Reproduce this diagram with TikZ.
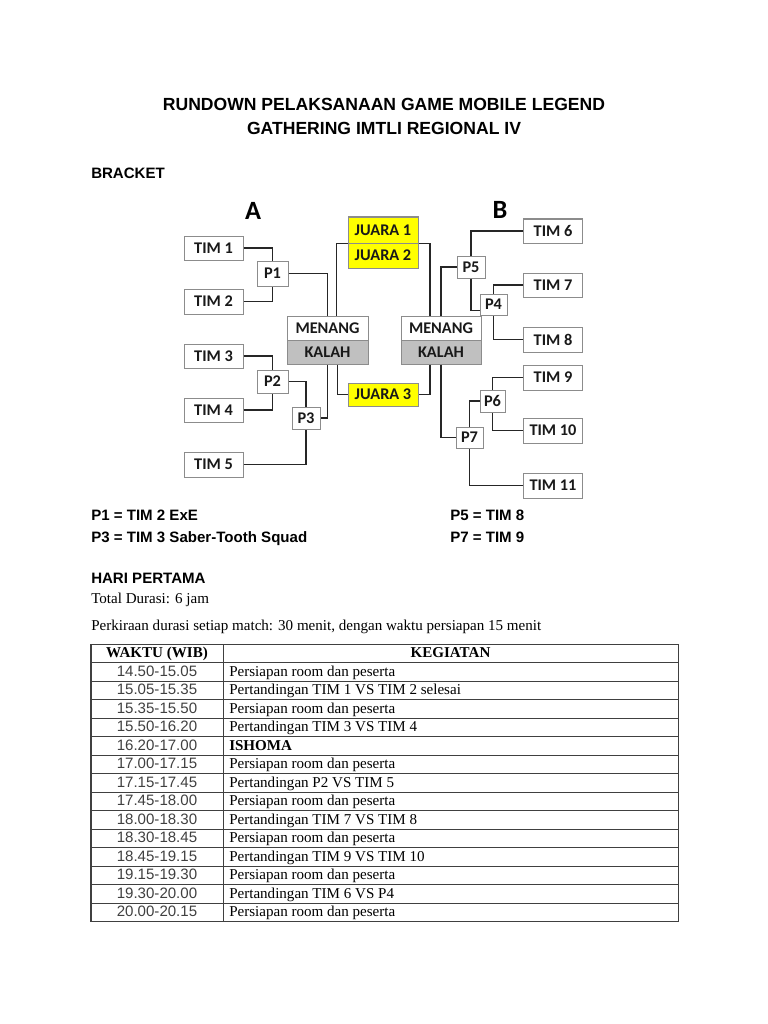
\documentclass[tikz,border=0pt]{standalone}
\usepackage{fontspec}
\setmainfont{Liberation Serif}
\newfontfamily\arialf{Liberation Sans}
\newfontfamily\calf{Carlito}
\usetikzlibrary{calc}
\definecolor{boxgray}{HTML}{8C8C8C}
\definecolor{kalahgray}{HTML}{C0C0C0}
\definecolor{juarayellow}{HTML}{FFFF00}
\definecolor{lineblack}{HTML}{262626}
\definecolor{tablegray}{HTML}{404040}
\newcommand\pxu{0.796875pt}
\tikzset{
  bx/.style 2 args={minimum width=#1*\pxu, minimum height=#2*\pxu},
  team/.style={draw=boxgray, line width=0.8pt, fill=white, inner sep=0pt,
    font=\calf\bfseries\fontsize{13}{15}\selectfont, text=black!90},
  kalah/.style={team, fill=kalahgray},
  juara/.style={team, fill=juarayellow},
  conn/.style={draw=lineblack, line width=0.9pt},
  bigletter/.style={font=\calf\bfseries\fontsize{21}{24}\selectfont, inner sep=0pt},
  headtext/.style={font=\arialf\bfseries\fontsize{12}{14}\selectfont, inner sep=0pt, anchor=base west},
  titletext/.style={font=\arialf\bfseries\fontsize{14}{16}\selectfont, inner sep=0pt, anchor=base},
  bodytext/.style={font=\fontsize{12}{14}\selectfont, inner sep=0pt, anchor=base west},
  timetext/.style={font=\arialf\fontsize{12}{14}\selectfont, text=black!75, inner sep=0pt, anchor=base},
  acttext/.style={font=\fontsize{12}{14}\selectfont, inner sep=0pt, anchor=base west},
  tabline/.style={draw=tablegray, line width=0.8pt}
}
\begin{document}
\begin{tikzpicture}[x=0.796875pt, y=-0.796875pt]
\useasboundingbox (0,0) rectangle (768,1024);
\fill[white] (0,0) rectangle (768,1024);

% titles
\node[titletext] (title1) at (384,110.3) {RUNDOWN PELAKSANAAN GAME MOBILE LEGEND};
\node[titletext] (title2) at (384,134.3) {GATHERING IMTLI REGIONAL IV};
\node[headtext] (bracket) at (91,178.4) {BRACKET};

% bracket letters
\node[bigletter] (la) at (253,211) {A};
\node[bigletter] (lb) at (500,210) {B};

% side A teams
\node[team, bx={59}{24}] (t1) at (213.5,248) {TIM 1};
\node[team, bx={59}{25}] (t2) at (213.5,301.5) {TIM 2};
\node[team, bx={59}{24}] (t3) at (213.5,356) {TIM 3};
\node[team, bx={59}{24}] (t4) at (213.5,410) {TIM 4};
\node[team, bx={59}{25}] (t5) at (213.5,464.5) {TIM 5};
\node[team, bx={31}{25}] (p1) at (272.5,273.5) {P1};
\node[team, bx={31}{23}] (p2) at (272.5,381.5) {P2};
\node[team, bx={28}{22}] (p3) at (306,418) {P3};

% centre
\node[team, bx={81}{24}] (mA) at (327.5,328) {MENANG};
\node[kalah, bx={81}{24}] (kA) at (327.5,352) {KALAH};
\node[team, bx={80}{24}] (mB) at (441,328) {MENANG};
\node[kalah, bx={80}{24}] (kB) at (441,352) {KALAH};
\node[juara, bx={70}{26}] (j1) at (383,230) {JUARA 1};
\node[juara, bx={70}{25}] (j2) at (383,255.5) {JUARA 2};
\node[juara, bx={70}{23}] (j3) at (383,394.5) {JUARA 3};

% side B teams
\node[team, bx={59}{24}] (t6) at (553,231) {TIM 6};
\node[team, bx={59}{24}] (t7) at (553,285) {TIM 7};
\node[team, bx={59}{25}] (t8) at (553,339.5) {TIM 8};
\node[team, bx={59}{25}] (t9) at (553,377.5) {TIM 9};
\node[team, bx={59}{25}] (t10) at (553,430.5) {TIM 10};
\node[team, bx={59}{25}] (t11) at (553,485.5) {TIM 11};
\node[team, bx={28}{22}] (p5) at (471,267) {P5};
\node[team, bx={27}{21}] (p4) at (493.5,304.5) {P4};
\node[team, bx={25}{22}] (p6) at (492.5,401) {P6};
\node[team, bx={27}{21}] (p7) at (469.5,437.5) {P7};

% connectors side A
\draw[conn] (t1.east) -| (p1.north);
\draw[conn] (t2.east) -| (p1.south);
\draw[conn] (t3.east) -| (p2.north);
\draw[conn] (t4.east) -| (p2.south);
\draw[conn] (p2.east) -| (p3.north);
\draw[conn] (t5.east) -| (p3.south);
\draw[conn] (p1.east) -| (mA.north);
\draw[conn] (kA.south) |- (p3.east);
% centre
\draw[conn] ($(mA.north)+(9,0)$) |- (j1.south west);
\draw[conn] (j1.south east) -| ($(mB.north)+(-11,0)$);
\draw[conn] ($(kA.south)+(10,0)$) |- (j3.west);
\draw[conn] ($(kB.south)+(-11,0)$) |- (j3.east);
% side B
\draw[conn] (mB.north) |- (p5.west);
\draw[conn] (kB.south) |- (p7.west);
\draw[conn] (t6.west) -| (p5.north);
\draw[conn] (p5.south) |- ($(p4.west)+(0,6)$);
\draw[conn] (t7.west) -| (p4.north);
\draw[conn] (t8.west) -| (p4.south);
\draw[conn] (t9.west) -| (p6.north);
\draw[conn] (t10.west) -| (p6.south);
\draw[conn] (p6.west) -| (p7.north);
\draw[conn] (t11.west) -| (p7.south);

% results
\node[headtext] (r1) at (91,520.4) {P1 = TIM 2 ExE};
\node[headtext] (r3) at (91,542.4) {P3 = TIM 3 Saber-Tooth Squad};
\node[headtext] (r5) at (450,520.4) {P5 = TIM 8};
\node[headtext] (r7) at (450,542.4) {P7 = TIM 9};

\node[headtext] (hari) at (91,583.4) {HARI PERTAMA};
\node[bodytext] (durasi) at (91,603) {Total Durasi: 6 jam};
\node[bodytext] (perk) at (91,630) {Perkiraan durasi setiap match: 30 menit, dengan waktu persiapan 15 menit};

% table
\foreach \i in {0,...,15} {
  \draw[tabline] (91,{644+18.53*\i}) -- (678,{644+18.53*\i});
}
\draw[tabline] (91,644) -- (91,921.95);
\draw[tabline] (223,644) -- (223,921.95);
\draw[tabline] (678,644) -- (678,921.95);
\node[font=\bfseries\fontsize{12}{14}\selectfont, inner sep=0pt, anchor=base] (hw) at (157,657.5) {WAKTU (WIB)};
\node[font=\bfseries\fontsize{12}{14}\selectfont, inner sep=0pt, anchor=base] (hk) at (450.5,657.5) {KEGIATAN};
\foreach \t/\k [count=\i] in {
  14.50-15.05/Persiapan room dan peserta,
  15.05-15.35/Pertandingan TIM 1 VS TIM 2 selesai,
  15.35-15.50/Persiapan room dan peserta,
  15.50-16.20/Pertandingan TIM 3 VS TIM 4,
  16.20-17.00/\textbf{ISHOMA},
  17.00-17.15/Persiapan room dan peserta,
  17.15-17.45/Pertandingan P2 VS TIM 5,
  17.45-18.00/Persiapan room dan peserta,
  18.00-18.30/Pertandingan TIM 7 VS TIM 8,
  18.30-18.45/Persiapan room dan peserta,
  18.45-19.15/Pertandingan TIM 9 VS TIM 10,
  19.15-19.30/Persiapan room dan peserta,
  19.30-20.00/Pertandingan TIM 6 VS P4,
  20.00-20.15/Persiapan room dan peserta} {
  \node[timetext] (w\i) at (157,{644+18.53*\i+13.5}) {\t};
  \node[acttext] (k\i) at (229,{644+18.53*\i+13.5}) {\k};
}
\end{tikzpicture}
\end{document}
